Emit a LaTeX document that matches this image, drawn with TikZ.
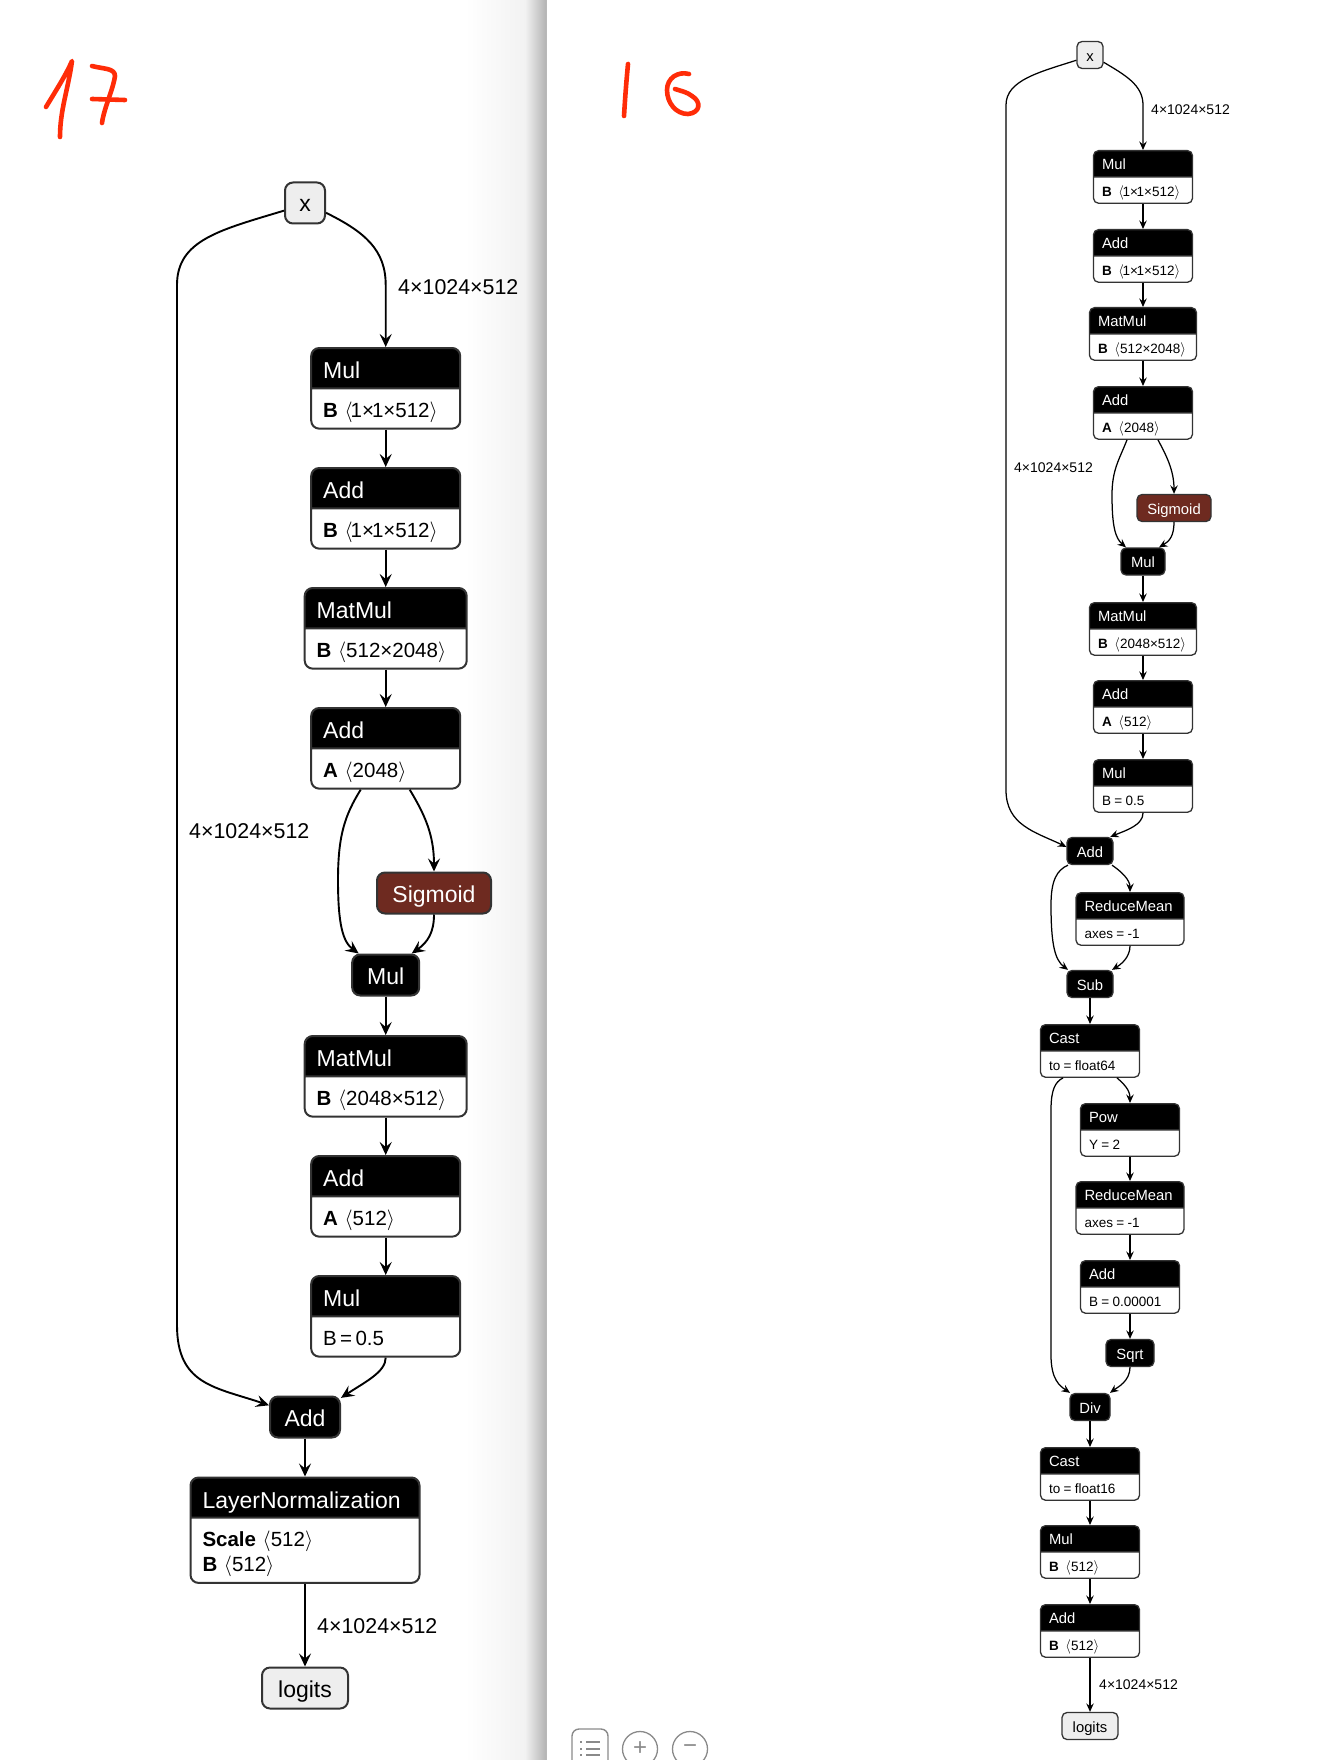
\documentclass[tikz,border=0pt]{standalone}
\usepackage{fontspec}
\setmainfont{Liberation Sans}
\usetikzlibrary{shapes.multipart,arrows.meta}
\definecolor{boxline}{HTML}{333333}
\definecolor{ioface}{HTML}{EEEEEE}
\definecolor{sigface}{HTML}{6E2A20}
\definecolor{penred}{HTML}{FF2C08}
\definecolor{iconline}{HTML}{8A8A8A}

\newcommand{\shp}[1]{\smash{$\langle$#1$\rangle$}}
\newcommand{\nr}{\kern-.1em}
% big panel
\newcommand{\bigst}{\rule{0pt}{21pt}}
\newcommand{\bigbd}{\rule[-2pt]{0pt}{21pt}}
\newcommand{\bigop}[2]{\color{white}\fontsize{23}{26}\selectfont\bigst #1\nodepart{two}\color{black}\fontsize{20.5}{26}\selectfont\bigbd #2}
% small panel
\newcommand{\smlst}{\rule[-1pt]{0pt}{14pt}}
\newcommand{\smlop}[2]{\color{white}\fontsize{14.8}{17}\selectfont\smlst #1\nodepart{two}\color{black}\fontsize{13.5}{17}\selectfont\smlst #2}

\tikzset{
	opbig/.style={rectangle split,rectangle split parts=2,rectangle split part fill={black,white},
		draw=boxline,line width=2pt,rounded corners=8pt,anchor=north,inner xsep=12pt,inner ysep=8.6pt,text width=#1},
	opsml/.style={rectangle split,rectangle split parts=2,rectangle split part fill={black,white},
		draw=boxline,line width=1.3pt,rounded corners=5pt,anchor=north,inner xsep=8.5pt,inner ysep=5.5pt,text width=#1},
	nodebig/.style={draw=boxline,line width=2pt,rounded corners=8pt,inner sep=0pt,minimum height=41pt,text height=20pt,text depth=2pt,font=\fontsize{23}{26}\selectfont},
	nodesml/.style={draw=boxline,line width=1.3pt,rounded corners=5pt,inner sep=0pt,minimum height=27pt,text height=14pt,text depth=1.4pt,font=\fontsize{14.8}{17}\selectfont},
	opfill/.style={fill=black,text=white},
	iofill/.style={fill=ioface,text=black},
	sigfill/.style={fill=sigface,text=white},
	linkbig/.style={line width=1.9pt,-{Stealth[length=13pt,width=12pt,inset=5pt]}},
	linksml/.style={line width=1.25pt,-{Stealth[length=8.5pt,width=7.5pt,inset=3pt]}},
	lblbig/.style={anchor=west,inner sep=0pt,font=\fontsize{21.4}{24}\selectfont},
	lblsml/.style={anchor=west,inner sep=0pt,font=\fontsize{14}{16}\selectfont},
	pen/.style={draw=penred,line width=4.6pt,line cap=round,line join=round},
	iconbtn/.style={draw=iconline,line width=1.3pt,circle,minimum size=35pt,inner sep=0pt,text=iconline,font=\fontsize{24}{24}\selectfont},
}

\begin{document}
\begin{tikzpicture}[x=1pt,y=-1pt]
\useasboundingbox (0,0) rectangle (1330,1760);
\clip (0,0) rectangle (1330,1760);

% panel edge
\shade[left color=white,right color=black!5] (465,0) rectangle (525,1760);
\shade[left color=black!5,right color=black!30] (525,0) rectangle (546,1760);
\draw[black!28,line width=1pt] (546,0) -- (546,1760);

% handwriting
\draw[pen] (46,107) .. controls (55,92) and (66,75) .. (72,61) .. controls (68,90) and (60,110) .. (60,137);
\draw[pen] (92,66) .. controls (103,69) and (115,68) .. (115,76) .. controls (113,90) and (104,108) .. (102,123);
\draw[pen] (92,99) -- (125,100);
\draw[pen] (628,64) .. controls (626,85) and (625,100) .. (624,116);
\draw[pen] (689,74) .. controls (678,71) and (667,78) .. (667,90) .. controls (667,103) and (676,114) .. (688,114) .. controls (700,113) and (702,102) .. (692,96) .. controls (687,92) and (681,91) .. (675,89);

% 17
\node[nodebig,iofill,minimum width=40pt] (lx) at (305,203) {x};
\node[opbig=125pt] (lmula) at (385.7,347) {\bigop{Mul}{\textbf{B}~~\shp{\nr 1×\nr 1×512}}};
\node[opbig=125pt] (ladda) at (385.7,467) {\bigop{Add}{\textbf{B}~~\shp{\nr 1×\nr 1×512}}};
\node[opbig=138pt] (lmatmula) at (385.7,587) {\bigop{MatMul}{\textbf{B}~~\shp{512×2048}}};
\node[opbig=125pt] (laddb) at (385.7,707) {\bigop{Add}{\textbf{A}~~\shp{2048}}};
\node[nodebig,sigfill,minimum width=114pt] (lsigmoid) at (434,893) {Sigmoid};
\node[nodebig,opfill,minimum width=67pt] (lmulb) at (385.7,975) {Mul};
\node[opbig=138pt] (lmatmulb) at (385.7,1035) {\bigop{MatMul}{\textbf{B}~~\shp{2048×512}}};
\node[opbig=125pt] (laddc) at (385.7,1155) {\bigop{Add}{\textbf{A}~~\shp{512}}};
\node[opbig=125pt] (lmulc) at (385.7,1275) {\bigop{Mul}{B = 0.5}};
\node[nodebig,opfill,minimum width=70pt] (laddd) at (305,1417) {Add};
\node[opbig=205pt] (lnorm) at (305,1476.5) {\bigop{\smash{LayerNormalization}}{\textbf{Scale}~~\shp{512}\\[3pt]\bigbd\textbf{B}~~\shp{512}}};
\node[nodebig,iofill,minimum width=86pt] (llogits) at (305,1688) {logits};

\node[lblbig] (lshapea) at (398,287) {4×1024×512};
\node[lblbig] (lshapeb) at (189,831) {4×1024×512};
\node[lblbig] (lshapec) at (317,1626) {4×1024×512};

\path[linkbig]
(lmula) edge (ladda)
(ladda) edge (lmatmula)
(lmatmula) edge (laddb)
(lmulb) edge (lmatmulb)
(lmatmulb) edge (laddc)
(laddc) edge (lmulc)
(laddd.south) edge (lnorm)
(lnorm) edge (llogits);
\draw[linkbig] (lx.-25) .. controls (365,232) and (385.7,250) .. (385.7,285) -- (lmula.north);
\draw[linkbig] (lx.200) .. controls (220,230) and (177,240) .. (177,285) -- (177,1325) .. controls (177,1385) and (215,1387) .. (laddd.162);
\draw[linkbig] (lmulc.south) .. controls (385.7,1372) and (365,1382) .. (laddd.28);
\draw[linkbig] ([xshift=-25pt]laddb.south) .. controls (345,815) and (338,835) .. (338,880) .. controls (338,925) and (343,942) .. ([xshift=-27pt]lmulb.north);
\draw[linkbig] ([xshift=24pt]laddb.south) .. controls (425,815) and (434,835) .. (lsigmoid.north);
\draw[linkbig] (lsigmoid.south) .. controls (434,932) and (428,942) .. ([xshift=26pt]lmulb.north);

% 16
\node[nodesml,iofill,minimum width=26pt] (rx) at (1090,55) {x};
\node[opsml=82pt] (rmula) at (1143,150) {\smlop{Mul}{\textbf{B}~~\shp{\nr 1×\nr 1×512}}};
\node[opsml=82pt] (radda) at (1143,229) {\smlop{Add}{\textbf{B}~~\shp{\nr 1×\nr 1×512}}};
\node[opsml=90pt] (rmatmula) at (1143,307) {\smlop{MatMul}{\textbf{B}~~\shp{512×2048}}};
\node[opsml=82pt] (raddb) at (1143,386) {\smlop{Add}{\textbf{A}~~\shp{2048}}};
\node[nodesml,sigfill,minimum width=74pt] (rsigmoid) at (1174,508) {Sigmoid};
\node[nodesml,opfill,minimum width=44pt] (rmulb) at (1143,561.5) {Mul};
\node[opsml=90pt] (rmatmulb) at (1143,602) {\smlop{MatMul}{\textbf{B}~~\shp{2048×512}}};
\node[opsml=82pt] (raddc) at (1143,680) {\smlop{Add}{\textbf{A}~~\shp{512}}};
\node[opsml=82pt] (rmulc) at (1143,759) {\smlop{Mul}{B = 0.5}};
\node[nodesml,opfill,minimum width=46pt] (raddd) at (1090,851) {Add};
\node[opsml=91pt] (rreducea) at (1130,892) {\smlop{ReduceMean}{axes = -1}};
\node[nodesml,opfill,minimum width=46pt] (rsub) at (1090,984) {Sub};
\node[opsml=82pt] (rcasta) at (1090,1024) {\smlop{Cast}{to = float64}};
\node[opsml=82pt] (rpow) at (1130,1103) {\smlop{Pow}{Y = 2}};
\node[opsml=91pt] (rreduceb) at (1130,1181) {\smlop{ReduceMean}{axes = -1}};
\node[opsml=82pt] (radde) at (1130,1260) {\smlop{Add}{B = 0.00001}};
\node[nodesml,opfill,minimum width=48pt] (rsqrt) at (1130,1353) {Sqrt};
\node[nodesml,opfill,minimum width=40pt] (rdiv) at (1090,1407) {Div};
\node[opsml=82pt] (rcastb) at (1090,1447) {\smlop{Cast}{to = float16}};
\node[opsml=82pt] (rmuld) at (1090,1525) {\smlop{Mul}{\textbf{B}~~\shp{512}}};
\node[opsml=82pt] (raddf) at (1090,1604) {\smlop{Add}{\textbf{B}~~\shp{512}}};
\node[nodesml,iofill,minimum width=56pt] (rlogits) at (1090,1726) {logits};

\node[lblsml] (rshapea) at (1151,110) {4×1024×512};
\node[lblsml] (rshapeb) at (1014,468) {4×1024×512};
\node[lblsml] (rshapec) at (1099,1685) {4×1024×512};

\path[linksml]
(rmula) edge (radda)
(radda) edge (rmatmula)
(rmatmula) edge (raddb)
(rmulb) edge (rmatmulb)
(rmatmulb) edge (raddc)
(raddc) edge (rmulc)
(rsub) edge (rcasta)
(rpow) edge (rreduceb)
(rreduceb) edge (radde)
(radde) edge (rsqrt)
(rdiv) edge (rcastb)
(rcastb) edge (rmuld)
(rmuld) edge (raddf)
(raddf) edge (rlogits);
\draw[linksml] (rx.-28) .. controls (1125,75) and (1143,85) .. (1143,105) -- (rmula.north);
\draw[linksml] (rx.201) .. controls (1040,72) and (1006,80) .. (1006,105) -- (1006,790) .. controls (1006,825) and (1035,832) .. (raddd.170);
\draw[linksml] (rmulc.south) .. controls (1143,825) and (1127,830) .. (raddd.35);
\draw[linksml] ([xshift=-16pt]raddb.south) .. controls (1119,460) and (1112,470) .. (1112,495) .. controls (1112,525) and (1115,538) .. ([xshift=-17pt]rmulb.north);
\draw[linksml] ([xshift=15pt]raddb.south) .. controls (1166,455) and (1174,470) .. (rsigmoid.north);
\draw[linksml] (rsigmoid.south) .. controls (1174,535) and (1170,541) .. ([xshift=16pt]rmulb.north);
\draw[linksml] ([xshift=-22pt]raddd.south) .. controls (1057,870) and (1051,880) .. (1051,905) .. controls (1051,945) and (1055,960) .. ([xshift=-22pt]rsub.north);
\draw[linksml] ([xshift=22pt]raddd.south) .. controls (1122,872) and (1130,880) .. (rreducea.north);
\draw[linksml] (rreducea.south) .. controls (1130,958) and (1120,965) .. ([xshift=22pt]rsub.north);
\draw[linksml] ([xshift=-27pt]rcasta.south) .. controls (1055,1082) and (1051,1090) .. (1051,1110) -- (1051,1355) .. controls (1051,1380) and (1060,1386) .. ([xshift=-20pt]rdiv.north);
\draw[linksml] ([xshift=27pt]rcasta.south) .. controls (1124,1084) and (1130,1090) .. (rpow.north);
\draw[linksml] (rsqrt.south) .. controls (1130,1381) and (1118,1387) .. ([xshift=20pt]rdiv.north);

% buttons
\draw[iconline,line width=1.4pt,rounded corners=7pt] (572,1775) -- (572,1729) -- (608,1729) -- (608,1775);
\foreach \rowy in {1742,1749,1755}{
	\draw[iconline,line width=1.3pt] (580,\rowy) -- (582,\rowy);
	\draw[iconline,line width=1.3pt] (586,\rowy) -- (600,\rowy);
}
\node[iconbtn] (btnplus) at (640,1749) {+};
\node[iconbtn] (btnminus) at (690,1749) {−};
\end{tikzpicture}
\end{document}
